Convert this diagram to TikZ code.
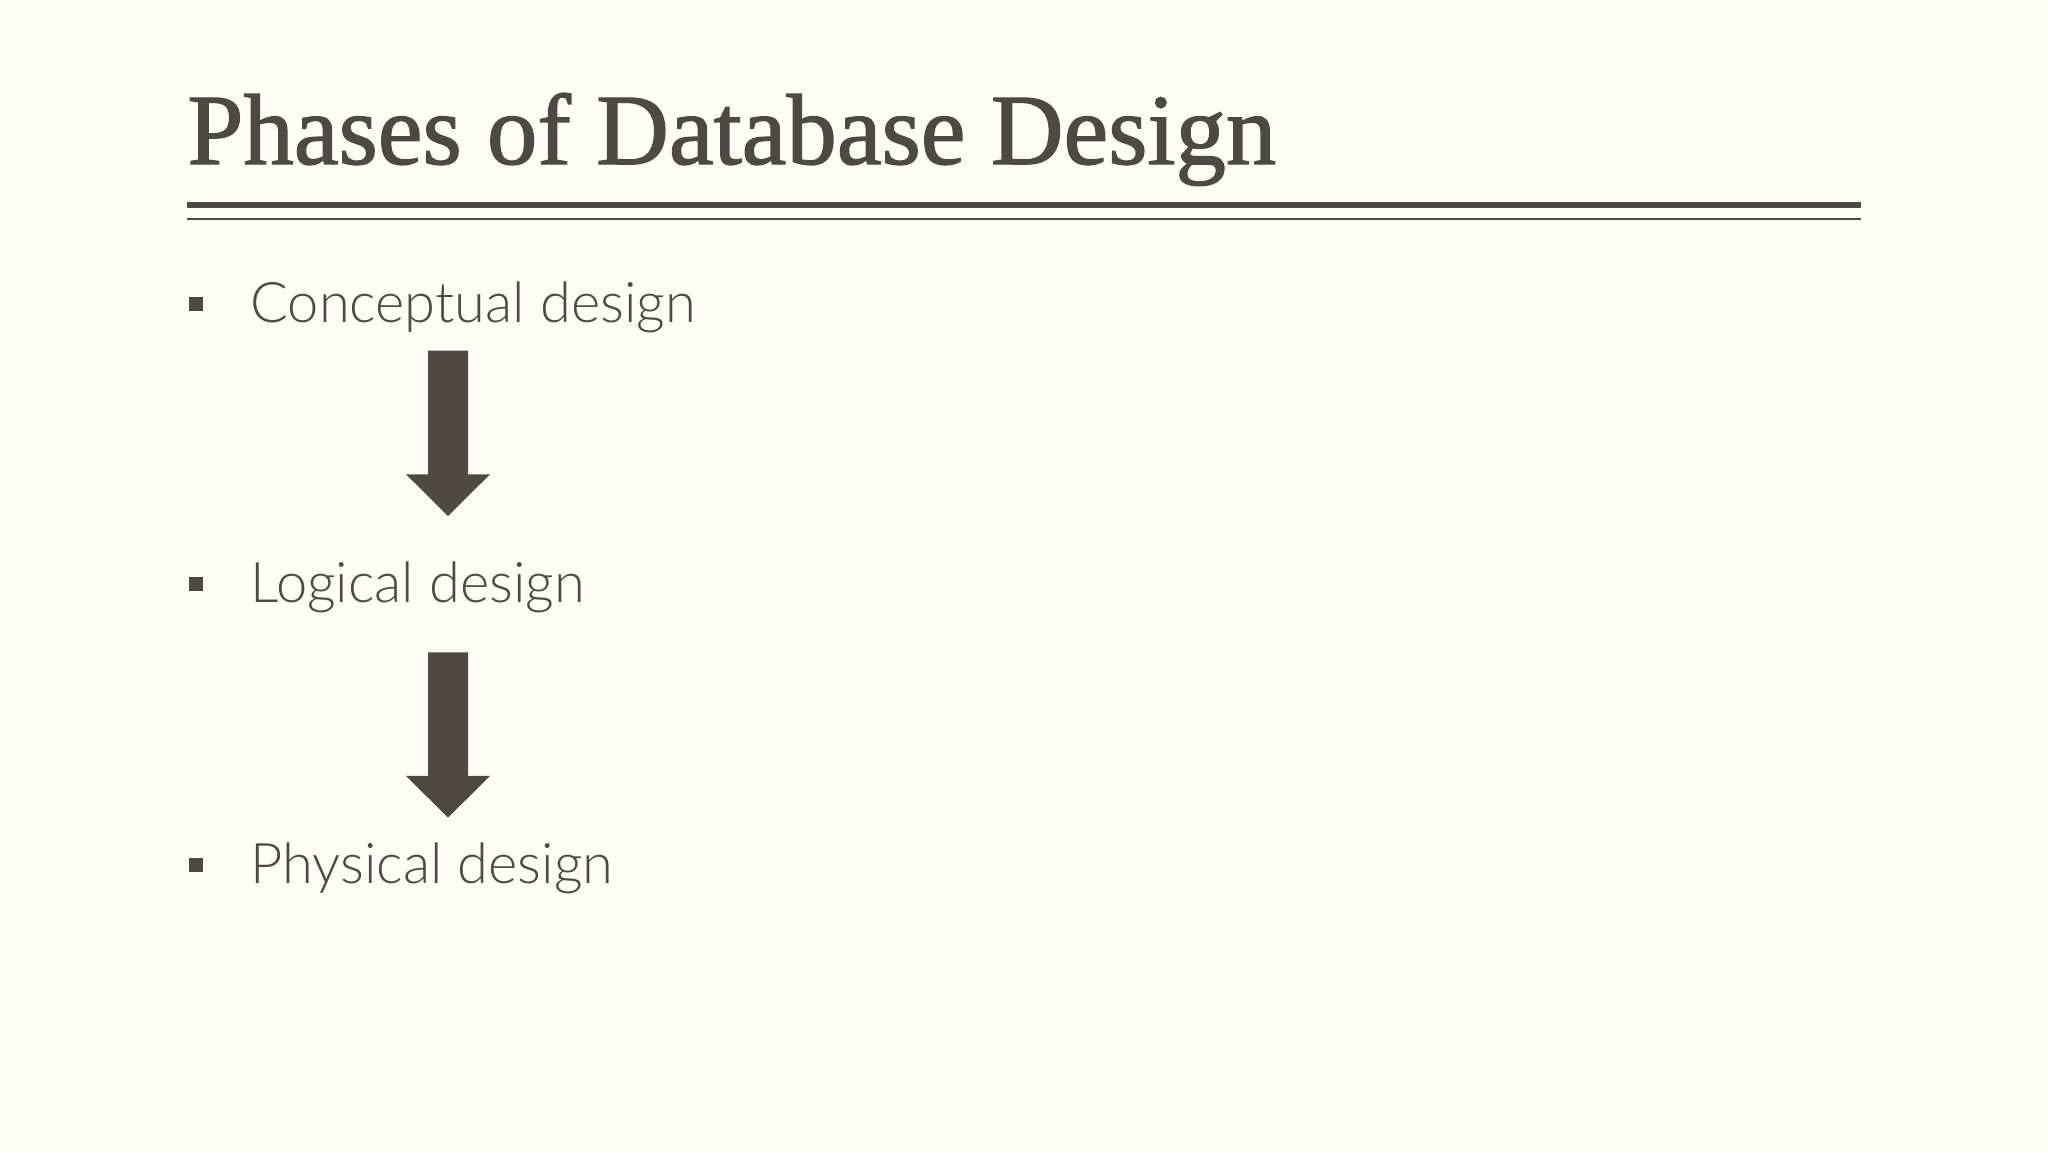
\documentclass[tikz,border=0pt]{standalone}
\usepackage{fontspec}
\setmainfont{Liberation Serif}[FakeBold=1.3]
\newfontfamily\bodyfont{Lato}[UprightFont=* Light]
\definecolor{bg}{HTML}{FEFDF8}
\definecolor{ink}{HTML}{4E4944}
\begin{document}
\begin{tikzpicture}[x=0.5pt,y=-0.5pt,
  titletext/.style={anchor=base west,inner sep=0pt,text=ink,font=\fontsize{50.4}{58}\selectfont},
  itemtext/.style={anchor=base west,inner sep=0pt,text=ink,font=\bodyfont\fontsize{28}{33}\selectfont},
  bulletsq/.style={fill=ink,draw=none,minimum size=7pt,inner sep=0pt},
  blockarrow/.style={fill=ink,draw=none}]
\fill[bg] (0,0) rectangle (2048,1152);
\useasboundingbox (0,0) rectangle (2048,1152);
\node[titletext] (title) at (187,164) {Phases of Database Design};
\fill[ink] (187,201.7) rectangle (1861,208);
\fill[ink] (187,217.5) rectangle (1861,219.5);
\node[bulletsq] (b1) at (196,304) {};
\node[bulletsq] (b2) at (196,584) {};
\node[bulletsq] (b3) at (196,865) {};
\node[itemtext] (t1) at (250,322) {Conceptual design};
\node[itemtext] (t2) at (250,602) {Logical design};
\node[itemtext] (t3) at (250,883) {Physical design};
\coordinate (a1) at (448,350.7);
\coordinate (a2) at (448,652.3);
\foreach \c in {a1,a2}{
  \fill[ink] (\c) ++(-20,0) -- ++(40,0) -- ++(0,123.6) -- ++(22,0)
     -- ++(-42,41.7) -- ++(-42,-41.7) -- ++(22,0) -- cycle;
}
\end{tikzpicture}
\end{document}
